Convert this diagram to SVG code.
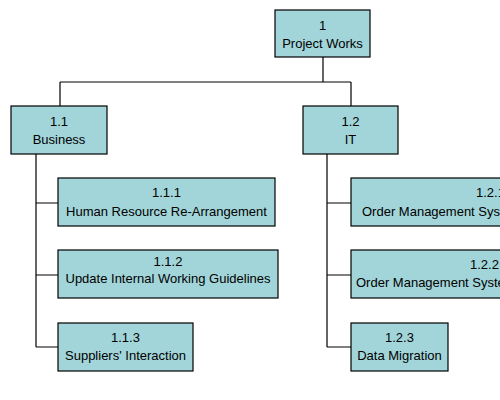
<svg xmlns="http://www.w3.org/2000/svg" width="500" height="400" viewBox="0 0 500 400">
<style>
.box{fill:#a2d5d9;stroke:#000;stroke-width:1.2}
.t{font-family:"Liberation Sans",Arial,sans-serif;font-size:13px;fill:#000;text-anchor:middle}
.s{text-anchor:start}
.c{fill:none;stroke:#000;stroke-width:1.2}
</style>
<rect width="500" height="400" fill="#fff"/>
<g id="connectors">
<path class="c" d="M323 57V82M60 82H351M60 82V106M351 82V106"/>
<path class="c" d="M36 154V347M36 203H58M36 275H58M36 347H58"/>
<path class="c" d="M327 154V347M327 203H351M327 275H351M327 347H351"/>
</g>
<g id="n1"><rect class="box" x="275" y="10" width="95" height="47"/><text class="t" x="322.5" y="30">1</text><text class="t" x="322.5" y="48">Project Works</text></g>
<g id="n1_1"><rect class="box" x="11" y="106" width="96" height="48"/><text class="t" x="59" y="126">1.1</text><text class="t" x="59" y="144">Business</text></g>
<g id="n1_2"><rect class="box" x="303" y="106" width="95" height="48"/><text class="t" x="350.5" y="126">1.2</text><text class="t" x="350.5" y="144">IT</text></g>
<g id="n1_1_1"><rect class="box" x="58" y="178" width="217" height="48"/><text class="t" x="166.5" y="197">1.1.1</text><text class="t" x="166.5" y="216">Human Resource Re-Arrangement</text></g>
<g id="n1_1_2"><rect class="box" x="58" y="250" width="220" height="48"/><text class="t" x="168" y="266">1.1.2</text><text class="t" x="168" y="283">Update Internal Working Guidelines</text></g>
<g id="n1_1_3"><rect class="box" x="58" y="323" width="135" height="48"/><text class="t" x="125.5" y="342">1.1.3</text><text class="t" x="125.5" y="360">Suppliers' Interaction</text></g>
<g id="n1_2_1"><rect class="box" x="351" y="178" width="280" height="48"/><text class="t s" x="476" y="197">1.2.1</text><text class="t s" x="362" y="216">Order Management System</text></g>
<g id="n1_2_2"><rect class="box" x="351" y="250" width="270" height="48"/><text class="t s" x="470" y="269">1.2.2</text><text class="t s" x="356" y="287">Order Management System</text></g>
<g id="n1_2_3"><rect class="box" x="351" y="323" width="97" height="48"/><text class="t" x="399.5" y="342">1.2.3</text><text class="t" x="399.5" y="360">Data Migration</text></g>
</svg>
